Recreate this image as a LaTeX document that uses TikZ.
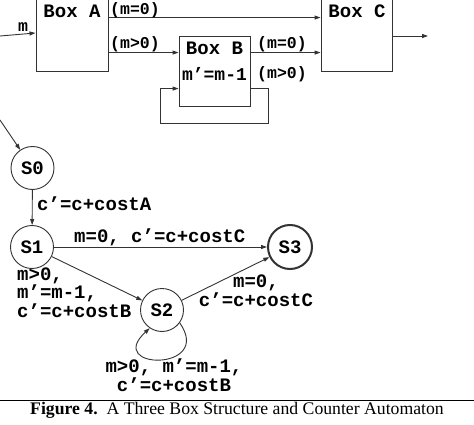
\documentclass[tikz,border=0pt]{standalone}
\usepackage{fontspec}
\setmainfont{Liberation Serif}
\setmonofont{Liberation Mono}
\usetikzlibrary{arrows.meta,calc}
\begin{document}
\begin{tikzpicture}[x=1pt,y=-1pt,
  line/.style={draw=black!80,line width=0.9pt},
  arr/.style={line,-{Triangle[length=6pt,width=4pt]}},
  boxnode/.style={line,rectangle,inner sep=0pt},
  st/.style={line,circle,inner sep=0pt,minimum size=43pt,font=\ttfamily\bfseries\fontsize{19}{19}\selectfont},
  lab/.style={inner sep=0pt,font=\ttfamily\bfseries\fontsize{19}{16}\selectfont},
  plab/.style={inner sep=0pt,font=\ttfamily\bfseries\fontsize{16.5}{16}\selectfont},
  blab/.style={inner sep=0pt,font=\ttfamily\bfseries\fontsize{19}{19}\selectfont}]
\useasboundingbox (0,0) rectangle (474,425);
\clip (0,0) rectangle (474,425);
% boxes
\node[boxnode,minimum width=72pt,minimum height=76pt] (A) at (72,33) {};
\node[boxnode,minimum width=71pt,minimum height=70pt] (B) at (214.5,71) {};
\node[boxnode,minimum width=71pt,minimum height=76pt] (C) at (356.5,33) {};
\node[blab,anchor=base] (tA) at (72,18) {Box A};
\node[blab,anchor=base] (tB) at (214.5,55) {Box B};
\node[blab,anchor=base,font=\ttfamily\bfseries\fontsize{18}{18}\selectfont] (tB2) at (214.5,81) {m’=m-1};
\node[blab,anchor=base] (tC) at (357,18) {Box C};
% ports
\coordinate (in) at (0,36);
\coordinate (out) at (428,36);
\coordinate (a0) at ($(A.north east)+(0,23)$);
\coordinate (a1) at ($(A.north east)+(0,58)$);
\coordinate (b0) at ($(B.north east)+(0,17)$);
\coordinate (b1) at ($(B.north east)+(0,53)$);
\coordinate (r1) at ($(b1)+(18,0)$);
\coordinate (r2) at ($(b1)+(18,35)$);
\coordinate (r3) at ($(B.north west)+(-18,88)$);
\coordinate (r4) at ($(B.north west)+(-18,53)$);
\draw[arr] (in) -- (A.west);
\node[plab,anchor=base] (lm) at (23,32) {m};
\draw[arr] (a0) -- (C.west |- a0);
\draw[arr] (a1) -- (B.west |- a1);
\draw[arr] (b0) -- (C.west |- b0);
\draw[arr] (b1) -- (r1) -- (r2) -- (r3) -- (r4) -- (B.west |- r4);
\draw[arr] (C.east |- out) -- (out);
\node[plab,anchor=base west] (l1) at (110,15) {(m=0)};
\node[plab,anchor=base west] (l2) at (110,49) {(m>0)};
\node[plab,anchor=base west] (l3) at (257,49) {(m=0)};
\node[plab,anchor=base west] (l4) at (257,79) {(m>0)};
% automaton
\node[st] (S0) at (32.5,168) {S0};
\node[st] (S1) at (32,247) {S1};
\node[st] (S2) at (162,310) {S2};
\node[st,line width=2pt,minimum size=44pt] (S3) at (290,247) {S3};
\coordinate (init) at (0,120);
\draw[arr] (init) -- (S0);
\draw[arr] (S0) -- (S1);
\draw[arr] (S1) -- (S3);
\draw[arr] (S1) -- (S2);
\draw[arr] (S2) -- (S3);
\draw[arr] (S2.-36) .. controls (214,372) and (104,370) .. (S2.236);
\node[lab,anchor=base west,align=left] (e1) at (37,210) {c’=c+costA};
\node[lab,anchor=base west] (e2) at (74,242) {m=0, c’=c+costC};
\node[lab,anchor=base west,align=left,font=\ttfamily\bfseries\fontsize{19}{16.5}\selectfont] (e3) at (17,317) {m>0,\\m’=m-1,\\ c’=c+costB};
\node[lab,anchor=base,align=center,font=\ttfamily\bfseries\fontsize{19}{15}\selectfont] (e4) at (256,306) {m=0,\\c’=c+costC};
\node[lab,anchor=base,align=center,font=\ttfamily\bfseries\fontsize{19}{15}\selectfont] (e5) at (174,391) {m>0, m’=m-1,\\c’=c+costB};
% caption
\draw[black,line width=0.8pt] (0,400) -- (474,400);
\node[inner sep=0pt,anchor=base,font=\fontsize{17.7}{17.7}\selectfont] (cap) at (237,414) {\textbf{Figure 4.}\ \ A Three Box Structure and Counter Automaton};
\end{tikzpicture}
\end{document}
